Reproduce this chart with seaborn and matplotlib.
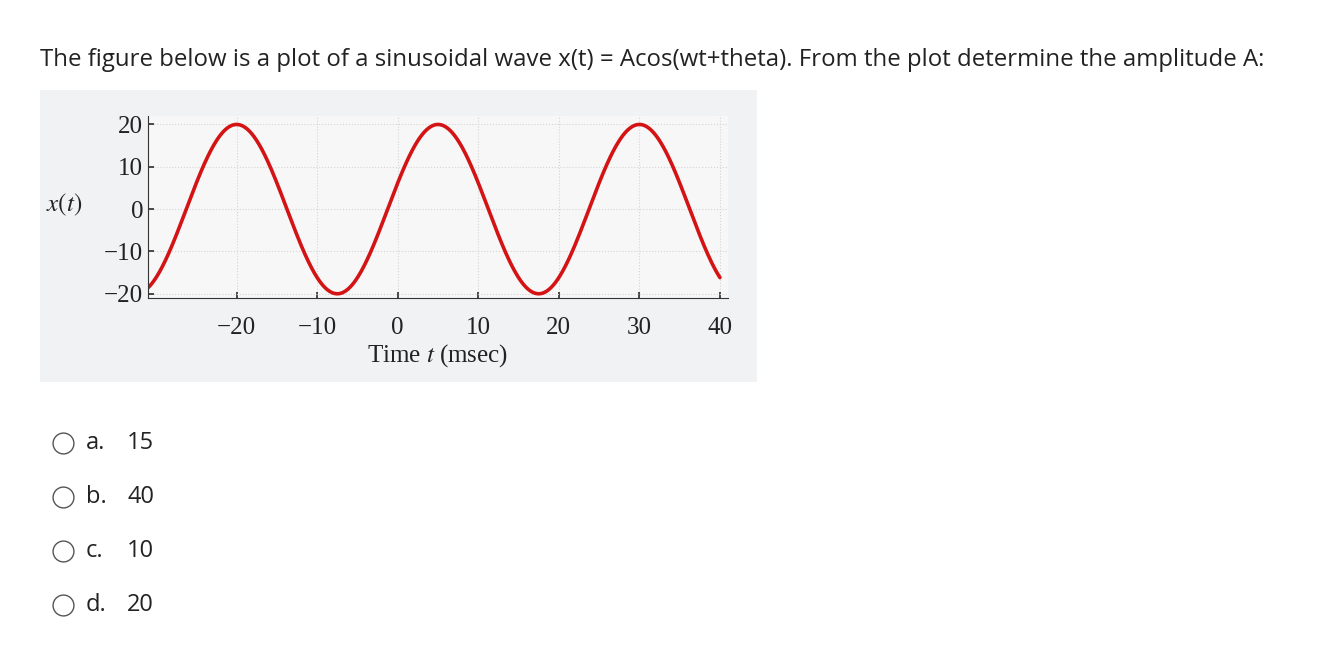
import numpy as np
import pandas as pd
import matplotlib
matplotlib.use("Agg")
import matplotlib.pyplot as plt
import seaborn as sns
from matplotlib.patches import Rectangle

# --- chart data ---
amplitude = 20.0        # peak value
period_ms = 25.0        # peak-to-peak spacing in msec
peak_time_ms = 5.0      # time of a positive peak
t_start, t_end = -31.0, 40.0
x_ticks = [-20, -10, 0, 10, 20, 30, 40]
y_ticks = [-20, -10, 0, 10, 20]

question = "The figure below is a plot of a sinusoidal wave x(t) = Acos(wt+theta). From the plot determine the amplitude A:"
option_letters = ["a.", "b.", "c.", "d."]
option_values = ["15", "40", "10", "20"]

W, H = 1319, 652
sns.set_theme(style="white")
plt.rcParams["font.family"] = ["Open Sans", "DejaVu Sans"]
plt.rcParams["mathtext.fontset"] = "stix"

fig = plt.figure(figsize=(W / 100, H / 100), dpi=100)
fig.patch.set_facecolor("white")

def fx(px):
    return px / W

def fy(py):
    return 1 - py / H

# question text
fig.text(fx(40), fy(60), question, fontsize=17.3, color="#222222", va="center", ha="left")

# grey panel behind the plot
fig.add_artist(Rectangle((fx(40), fy(382)), fx(757) - fx(40), fy(90) - fy(382),
                         transform=fig.transFigure, facecolor="#f1f2f3", edgecolor="none", zorder=0))

# the wave
t = np.linspace(t_start, t_end, 800)
df = pd.DataFrame({"t": t, "x": amplitude * np.cos(2 * np.pi * (t - peak_time_ms) / period_ms)})

ax = fig.add_axes([fx(148), fy(298), fx(728) - fx(148), fy(116) - fy(298)])
ax.set_facecolor("#f7f7f8")
sns.lineplot(data=df, x="t", y="x", ax=ax, color="#d41414", linewidth=2.6)
ax.set_xlim(t_start, 41)
ax.set_ylim(-21, 22)
ax.set_xticks(x_ticks)
ax.set_yticks(y_ticks)
ax.grid(True, linestyle=":", color="#d4d4d4", linewidth=0.8)
for s in ["top", "right"]:
    ax.spines[s].set_visible(False)
for s in ["left", "bottom"]:
    ax.spines[s].set_color("#333333")
    ax.spines[s].set_linewidth(0.8)
ax.tick_params(axis="both", direction="in", length=4, color="#333333",
               labelsize=18, labelcolor="#222222", bottom=True, left=True)
ax.set_xticklabels([str(v).replace("-", "\u2212") for v in x_ticks])
ax.set_yticklabels([str(v).replace("-", "\u2212") for v in y_ticks])
for lab in ax.get_xticklabels() + ax.get_yticklabels():
    lab.set_fontfamily("Liberation Serif")
ax.tick_params(axis="x", pad=14)
ax.set_xlabel("Time $t$ (msec)", fontsize=18, family="Liberation Serif", color="#222222", labelpad=2)
ax.set_ylabel("")
fig.text(fx(46), fy(205), "$x(t)$", fontsize=18, color="#222222", va="center", ha="left",
         family="Liberation Serif")

# answer options
for i, (letter, val) in enumerate(zip(option_letters, option_values)):
    py = 443 + i * 54
    fig.add_artist(plt.Line2D([fx(63)], [fy(py)], transform=fig.transFigure, marker="o",
                              markersize=15, markerfacecolor="white", markeredgecolor="#555555",
                              markeredgewidth=1.0, linestyle="none"))
    fig.text(fx(86), fy(py), letter, fontsize=17, color="#222222", va="center", ha="left")
    fig.text(fx(127), fy(py), val, fontsize=17, color="#222222", va="center", ha="left")

fig.savefig("out.png", dpi=100, facecolor="white")
